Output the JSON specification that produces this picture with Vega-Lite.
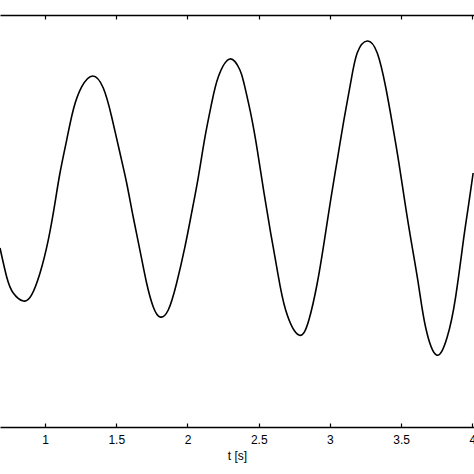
{
  "$schema": "https://vega.github.io/schema/vega-lite/v6.json",
  "width": 474,
  "height": 412,
  "autosize": {"type": "none"},
  "padding": {"left": 0, "top": 15, "right": 0, "bottom": 47},
  "background": "white",
  "config": {"view": {"stroke": null}},
  "data": {"values": [
    {"t": 0.684, "v": -0.262},
    {"t": 0.731, "v": -0.544},
    {"t": 0.777, "v": -0.699},
    {"t": 0.848, "v": -0.777},
    {"t": 0.906, "v": -0.718},
    {"t": 0.965, "v": -0.505},
    {"t": 1.023, "v": -0.184},
    {"t": 1.070, "v": 0.175},
    {"t": 1.105, "v": 0.466},
    {"t": 1.152, "v": 0.786},
    {"t": 1.198, "v": 1.078},
    {"t": 1.257, "v": 1.301},
    {"t": 1.335, "v": 1.408},
    {"t": 1.409, "v": 1.291},
    {"t": 1.468, "v": 1.010},
    {"t": 1.526, "v": 0.660},
    {"t": 1.573, "v": 0.369},
    {"t": 1.619, "v": 0.039},
    {"t": 1.666, "v": -0.282},
    {"t": 1.713, "v": -0.602},
    {"t": 1.760, "v": -0.835},
    {"t": 1.807, "v": -0.932},
    {"t": 1.865, "v": -0.864},
    {"t": 1.924, "v": -0.602},
    {"t": 1.982, "v": -0.252},
    {"t": 2.029, "v": 0.078},
    {"t": 2.076, "v": 0.427},
    {"t": 2.123, "v": 0.816},
    {"t": 2.170, "v": 1.146},
    {"t": 2.216, "v": 1.398},
    {"t": 2.298, "v": 1.573},
    {"t": 2.368, "v": 1.466},
    {"t": 2.396, "v": 1.340},
    {"t": 2.443, "v": 1.049},
    {"t": 2.490, "v": 0.689},
    {"t": 2.537, "v": 0.272},
    {"t": 2.584, "v": -0.117},
    {"t": 2.630, "v": -0.476},
    {"t": 2.689, "v": -0.864},
    {"t": 2.782, "v": -1.107},
    {"t": 2.852, "v": -0.961},
    {"t": 2.911, "v": -0.602},
    {"t": 2.958, "v": -0.214},
    {"t": 3.005, "v": 0.204},
    {"t": 3.051, "v": 0.592},
    {"t": 3.098, "v": 0.981},
    {"t": 3.145, "v": 1.340},
    {"t": 3.191, "v": 1.631},
    {"t": 3.262, "v": 1.748},
    {"t": 3.332, "v": 1.631},
    {"t": 3.391, "v": 1.301},
    {"t": 3.437, "v": 0.951},
    {"t": 3.484, "v": 0.563},
    {"t": 3.531, "v": 0.136},
    {"t": 3.577, "v": -0.252},
    {"t": 3.624, "v": -0.641},
    {"t": 3.671, "v": -1.029},
    {"t": 3.748, "v": -1.301},
    {"t": 3.823, "v": -1.126},
    {"t": 3.882, "v": -0.738},
    {"t": 3.940, "v": -0.155},
    {"t": 3.975, "v": 0.175},
    {"t": 4.005, "v": 0.466}
  ]},
  "layer": [
    {
      "mark": {"type": "line", "color": "black", "strokeWidth": 1.6, "interpolate": "natural"},
      "encoding": {
        "x": {
          "field": "t", "type": "quantitative",
          "scale": {"domain": [0.684, 4.011], "nice": false, "zero": false},
          "axis": {
            "orient": "bottom",
            "values": [1, 1.5, 2, 2.5, 3, 3.5, 4],
            "format": "~g",
            "title": "t [s]",
            "grid": false,
            "domainColor": "black", "domainWidth": 1.5,
            "tickColor": "black", "tickWidth": 1.2, "tickSize": -4,
            "labelColor": "black", "labelFont": "Liberation Sans", "labelFontSize": 12,
            "labelPadding": 11, "labelFlush": false, "labelOverlap": false,
            "titleColor": "black", "titleFont": "Liberation Sans", "titleFontSize": 12,
            "titleFontWeight": "normal", "titlePadding": 5
          }
        },
        "y": {
          "field": "v", "type": "quantitative",
          "scale": {"domain": [-2, 2], "nice": false, "zero": false},
          "axis": null
        }
      }
    },
    {
      "mark": {"type": "point", "opacity": 0},
      "encoding": {
        "x": {
          "field": "t", "type": "quantitative",
          "axis": {
            "orient": "top",
            "values": [1, 1.5, 2, 2.5, 3, 3.5, 4],
            "labels": false,
            "title": null,
            "grid": false,
            "domainColor": "black", "domainWidth": 1.5,
            "tickColor": "black", "tickWidth": 1.2, "tickSize": -4
          }
        },
        "y": {"field": "v", "type": "quantitative"}
      }
    }
  ]
}
